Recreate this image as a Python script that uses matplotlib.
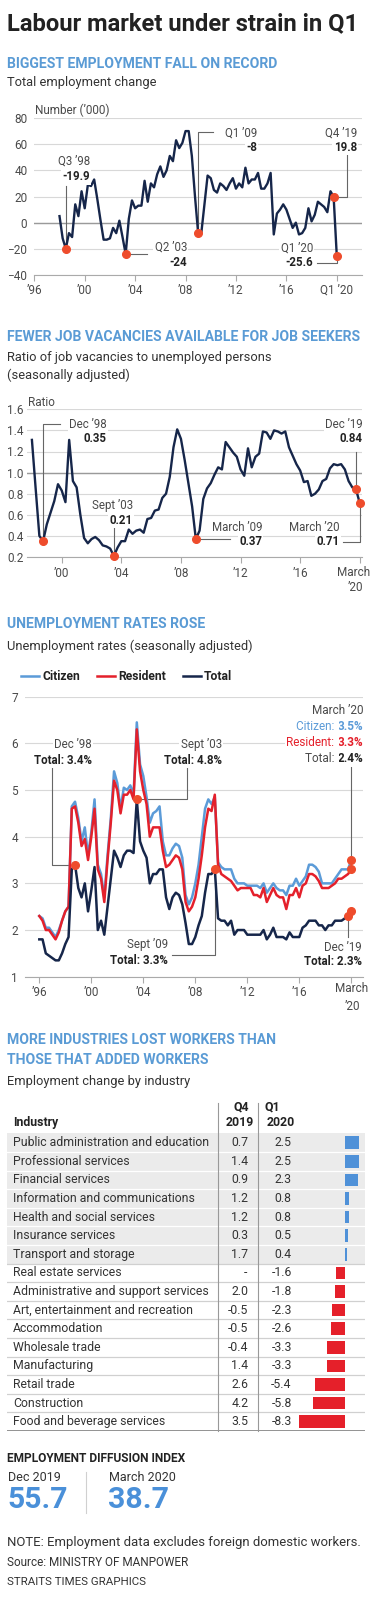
import numpy as np
import matplotlib
matplotlib.use("Agg")
import matplotlib.pyplot as plt
from matplotlib.lines import Line2D

W, H = 371, 1600
plt.rcParams['font.family'] = ['Roboto', 'DejaVu Sans']

NAVY = '#16264a'
DOT = '#ee4c2c'
CIT = '#5b9bd8'
RES = '#e4202b'
HEAD = '#5a9bd5'
DARK = '#222222'
TICK = '#4a4a4a'
GRID = '#d8d8d8'
LEAD = '#666666'
BARPOS = '#4f91d8'
BARNEG = '#e5202a'

# ---- data ----
# total employment change ('000), quarterly from Q1 1998 to Q1 2020
emp_start = 1998
emp_change = [5, -12, -19.9, -8, -11, 14, 5, 24, 11, 29, 28, 33,
              18, 2, -13, -13, -12, -4, -8, 1.5, -11, -24,
              3, 17, 11, 13, 13, 32, 16, 30, 27, 37, 43, 35, 40, 51, 47, 63,
              57, 61, 70, 70, 51, 20, -8,
              -8, 14, 36, 34, 25, 23, 30, 28, 25, 30, 34, 26, 30, 27, 42, 30,
              33, 33, 38, 26, 26, 30, 38,
              -9, 7, 10, 14, 10, 3, -4, 0, -9, -8, -4, 11, 1, 6, 16, 14, 12, 8,
              24, 19.8, -25.6]

# ratio of job vacancies to unemployed persons, quarterly from March 1998
ratio_start = 1998
vac_ratio = [1.31, 0.85, 0.40, 0.35, 0.51, 0.62, 0.73, 0.89,
             0.83, 0.72, 1.31, 0.92, 0.86, 0.60, 0.38, 0.33,
             0.37, 0.39, 0.36, 0.31, 0.30, 0.28, 0.21, 0.29,
             0.35, 0.35, 0.46, 0.42, 0.45, 0.46, 0.43, 0.56,
             0.57, 0.64, 0.65, 0.76, 0.80, 0.96, 1.24, 1.41,
             1.32, 1.12, 0.90, 0.68, 0.37, 0.45, 0.75, 0.85,
             0.90, 0.98, 1.05, 1.03, 1.29, 1.24, 1.19, 1.15,
             1.03, 0.97, 1.23, 1.05, 1.15, 1.18, 1.39, 1.38,
             1.32, 1.40, 1.39, 1.37, 1.39, 1.24, 1.16, 1.08,
             1.02, 0.91, 0.92, 0.78, 0.80, 0.84, 0.92, 0.94,
             1.04, 1.08, 1.07, 1.08, 1.03, 0.92, 0.86, 0.84, 0.71]

# unemployment rates (%), quarterly from Q1 1996
unemp_start = 1996
citizen = [2.3, 2.25, 2.05, 2.05, 1.95, 1.85, 2.0, 2.2, 2.4, 2.5, 4.65, 4.75,
           4.4, 3.9, 4.2, 3.6, 4.1, 4.8, 3.4, 3.2, 2.7, 3.6, 4.4, 5.4,
           5.15, 4.6, 5.05, 5.0, 5.1, 4.9, 6.45, 5.55, 5.3, 4.85, 4.3, 4.5,
           4.55, 4.65, 3.9, 3.6, 3.6, 3.75, 3.85, 3.8, 3.55, 2.75, 2.55, 2.7,
           3.0, 3.4, 4.0, 4.6, 4.8, 4.7, 4.85, 3.45, 3.35, 3.3, 3.3, 3.3,
           3.1, 3.0, 3.0, 3.0, 2.95, 2.95, 2.95, 2.95, 2.9, 3.0, 2.8, 2.9,
           3.0, 2.9, 2.85, 2.85, 2.75, 2.95, 2.95, 3.1, 2.95, 3.05, 3.15, 3.4,
           3.4, 3.35, 3.25, 3.0, 3.0, 3.0, 3.0, 3.1, 3.2, 3.3, 3.3, 3.3, 3.5]
resident = [2.3, 2.2, 2.0, 2.0, 1.9, 1.8, 1.95, 2.2, 2.4, 2.5, 4.6, 4.65,
            4.3, 3.8, 3.95, 3.5, 4.0, 4.6, 3.3, 3.1, 2.6, 3.5, 4.3, 5.2,
            5.0, 4.5, 4.9, 4.9, 5.0, 4.8, 6.3, 5.4, 5.0, 4.7, 4.0, 4.2,
            4.2, 4.2, 3.7, 3.35, 3.4, 3.5, 3.6, 3.55, 3.3, 2.6, 2.4, 2.5,
            2.7, 3.1, 3.6, 4.2, 4.6, 4.55, 4.9, 3.4, 3.2, 3.15, 3.1, 3.05,
            2.95, 2.85, 2.9, 2.9, 2.9, 2.9, 2.75, 2.75, 2.7, 2.9, 2.6, 2.75,
            2.9, 2.75, 2.7, 2.7, 2.45, 2.75, 2.75, 2.9, 2.7, 2.95, 3.0, 3.2,
            3.2, 3.15, 3.05, 2.9, 2.9, 2.9, 2.95, 3.0, 3.1, 3.1, 3.15, 3.2, 3.3]
total = [1.8, 1.8, 1.5, 1.45, 1.4, 1.35, 1.35, 1.5, 1.7, 1.85, 3.3, 3.4,
         2.9, 2.7, 3.0, 2.4, 2.85, 3.35, 2.0, 2.2, 1.9, 2.5, 3.1, 3.7,
         3.55, 3.35, 3.6, 3.7, 3.7, 3.65, 4.8, 3.9, 3.7, 3.55, 3.0, 3.2,
         3.2, 3.3, 3.3, 2.7, 2.45, 2.7, 2.8, 2.75, 2.55, 2.15, 1.7, 1.7,
         1.85, 2.1, 2.3, 2.8, 3.2, 3.2, 3.3, 2.25, 2.2, 2.2, 2.1, 2.2,
         1.9, 2.0, 2.0, 2.0, 1.9, 1.9, 1.9, 1.9, 1.9, 2.0, 1.8, 1.9,
         2.05, 1.85, 1.85, 1.85, 1.8, 1.95, 1.85, 1.85, 1.85, 2.05, 2.1, 2.2,
         2.2, 2.2, 2.1, 2.1, 2.0, 2.1, 2.1, 2.2, 2.2, 2.2, 2.25, 2.3, 2.4]

industries = ['Public administration and education', 'Professional services',
              'Financial services', 'Information and communications',
              'Health and social services', 'Insurance services',
              'Transport and storage', 'Real estate services',
              'Administrative and support services',
              'Art, entertainment and recreation', 'Accommodation',
              'Wholesale trade', 'Manufacturing', 'Retail trade',
              'Construction', 'Food and beverage services']
q4_2019 = [0.7, 1.4, 0.9, 1.2, 1.2, 0.3, 1.7, None, 2.0, -0.5, -0.5, -0.4,
           1.4, 2.6, 4.2, 3.5]
q1_2020 = [2.5, 2.5, 2.3, 0.8, 0.8, 0.5, 0.4, -1.6, -1.8, -2.3, -2.6, -3.3,
           -3.3, -5.4, -5.8, -8.3]

diffusion_labels = ['Dec 2019', 'March 2020']
diffusion_values = [55.7, 38.7]

# ---- helpers (pixel coordinates, origin top-left) ----
fig = plt.figure(figsize=(W / 100, H / 100), dpi=100)
R = fig.canvas.get_renderer()
WB = dict(fc='white', ec='none', pad=1.0)


def fx(px):
    return px / W


def fy(py):
    return 1 - py / H


def add_ax(x0, y0, x1, y1):
    return fig.add_axes([fx(x0), fy(y1), (x1 - x0) / W, (y1 - y0) / H])


def txt(px, py, s, size=8.3, color=TICK, weight='normal', ha='left', va='center', **kw):
    return fig.text(fx(px), fy(py), s, fontsize=size, color=color,
                    fontweight=weight, ha=ha, va=va, **kw)


def width(t):
    return t.get_window_extent(R).width


def fit(t, w):
    t.set_fontsize(t.get_fontsize() * w / width(t))
    return t.get_fontsize()


def fline(xs, ys, color='#999999', lw=0.8):
    fig.add_artist(Line2D([fx(x) for x in xs], [fy(y) for y in ys],
                          color=color, lw=lw, transform=fig.transFigure))


def to_px(ax, x, y):
    X, Y = ax.transData.transform((x, y))
    return X, H - Y


def leader(ax, pts):
    d = np.array([ax.transData.inverted().transform((x, H - y)) for x, y in pts])
    ax.plot(d[:, 0], d[:, 1], color=LEAD, lw=0.8, zorder=2, clip_on=False)


def label(px, py1, s1, py2, s2, ha='right'):
    txt(px, py1, s1, ha=ha, bbox=WB)
    txt(px, py2, s2, color=DARK, weight='bold', ha=ha, bbox=WB)


def style(ax, ypad, xpad):
    for s in ['top', 'right', 'left']:
        ax.spines[s].set_visible(False)
    ax.spines['bottom'].set_color('#aaaaaa')
    ax.spines['bottom'].set_linewidth(0.8)
    ax.grid(axis='y', color=GRID, lw=0.8)
    ax.set_axisbelow(True)
    ax.patch.set_alpha(0)
    ax.tick_params(axis='y', length=0, pad=ypad, labelsize=8.5, labelcolor=TICK)
    ax.tick_params(axis='x', length=4, width=0.8, color='#aaaaaa', pad=xpad,
                   labelsize=8.5, labelcolor=TICK)


# ---- titles ----
t = txt(7, 24, 'Labour market under strain in Q1', size=16, color=DARK, weight='bold')
fit(t, 353)
h = txt(7, 337, 'FEWER JOB VACANCIES AVAILABLE FOR JOB SEEKERS', size=10,
        color=HEAD, weight='bold')
hs = fit(h, 355)
txt(7, 63.5, 'BIGGEST EMPLOYMENT FALL ON RECORD', size=hs, color=HEAD, weight='bold')
txt(7, 624, 'UNEMPLOYMENT RATES ROSE', size=hs, color=HEAD, weight='bold')
txt(7, 1040, 'MORE INDUSTRIES LOST WORKERS THAN', size=hs, color=HEAD, weight='bold')
txt(7, 1059.5, 'THOSE THAT ADDED WORKERS', size=hs, color=HEAD, weight='bold')
SUB = 9.3
txt(7, 82.5, 'Total employment change', size=SUB, color='#333333')
txt(7, 357.5, 'Ratio of job vacancies to unemployed persons', size=SUB, color='#333333')
txt(7, 375, '(seasonally adjusted)', size=SUB, color='#333333')
txt(7, 646, 'Unemployment rates (seasonally adjusted)', size=SUB, color='#333333')
txt(7, 1081.5, 'Employment change by industry', size=SUB, color='#333333')

# ---- chart 1: employment change ----
ax1 = add_ax(34.3, 118, 362, 275)
ax1.set_xlim(1996, 2022)
ax1.set_ylim(-40, 80)
t1 = emp_start + np.arange(len(emp_change)) / 4
e1 = np.array(emp_change)
ax1.axhline(0, color='#9a9a9a', lw=1.0, zorder=1)
ax1.plot(t1, e1, color=NAVY, lw=1.7, zorder=3)
ax1.set_yticks([-40, -20, 0, 20, 40, 60, 80])
ax1.set_xticks([1996, 2000, 2004, 2008, 2012, 2016, 2020])
ax1.set_xticklabels(['’96', '’00', '’04', '’08', '’12', '’16', 'Q1 ’20'])
style(ax1, 5, 2.5)
txt(35, 110, 'Number (’000)', size=8.5)
k1 = [2, 21, 44, 87, 88]
ax1.plot(t1[k1], e1[k1], 'o', color=DOT, ms=5.5, zorder=5, clip_on=False)

x, y = to_px(ax1, t1[2], e1[2])
leader(ax1, [(x, y), (x, 186.5)])
label(90, 161.5, 'Q3 ’98', 177, '-19.9')
x, y = to_px(ax1, t1[21], e1[21])
leader(ax1, [(x, y), (147, y)])
label(187, 247, 'Q2 ’03', 262, '-24')
x, y = to_px(ax1, t1[44], e1[44])
leader(ax1, [(x, y), (x, 132.5), (213, 132.5)])
label(257, 133, 'Q1 ’09', 147.5, '-8')
x, y = to_px(ax1, t1[87], e1[87])
leader(ax1, [(x, y), (347, y), (347, 155)])
label(357, 133, 'Q4 ’19', 147.5, '19.8')
x, y = to_px(ax1, t1[88], e1[88])
leader(ax1, [(x, y), (x, 263.3), (317, 263.3)])
label(313, 248, 'Q1 ’20', 263, '-25.6')

# ---- chart 2: vacancy ratio ----
ax2 = add_ax(27, 409.3, 362, 557)
ax2.set_xlim(1997.67, 2020.15)
ax2.set_ylim(0.2, 1.6)
t2 = ratio_start + np.arange(len(vac_ratio)) / 4
v2 = np.array(vac_ratio)
ax2.axhline(1.0, color='#9a9a9a', lw=1.0, zorder=1)
ax2.plot(t2, v2, color=NAVY, lw=1.7, zorder=3)
ax2.set_yticks(np.arange(0.2, 1.61, 0.2))
ax2.set_yticklabels(['%.1f' % v for v in np.arange(0.2, 1.61, 0.2)])
ax2.set_xticks([2000, 2004, 2008, 2012, 2016, 2020])
ax2.set_xticklabels(['’00', '’04', '’08', '’12', '’16', ''])
style(ax2, 2.5, 3.5)
txt(370, 572, 'March', ha='right', size=8.5)
txt(363, 587.5, '’20', ha='right', size=8.5)
txt(28, 403, 'Ratio', size=8.5)
k2 = [3, 22, 44, 87, 88]
ax2.plot(t2[k2], v2[k2], 'o', color=DOT, ms=5.5, zorder=5, clip_on=False)

x, y = to_px(ax2, t2[3], v2[3])
leader(ax2, [(x, y), (x, 424.3), (60, 424.3)])
label(107, 424.5, 'Dec ’98', 438.5, '0.35')
x, y = to_px(ax2, t2[22], v2[22])
leader(ax2, [(x, y), (x, 527)])
label(133, 505.5, 'Sept ’03', 520, '0.21')
x, y = to_px(ax2, t2[44], v2[44])
leader(ax2, [(x, y), (230, y)])
label(262, 527.5, 'March ’09', 541.5, '0.37')
x, y = to_px(ax2, t2[87], v2[87])
leader(ax2, [(x, y), (x, 451.5)])
label(363, 425, 'Dec ’19', 439, '0.84')
x, y = to_px(ax2, t2[88], v2[88])
leader(ax2, [(x, y), (x, 541.7), (343, 541.7)])
label(340, 527.5, 'March ’20', 541.5, '0.71')

# ---- chart 3: unemployment rates ----
ax3 = add_ax(25, 696.7, 363, 976.7)
ax3.set_xlim(1994.9, 2020.9)
ax3.set_ylim(1, 7)
t3 = unemp_start + np.arange(len(total)) / 4
c3, r3, u3 = np.array(citizen), np.array(resident), np.array(total)
lc, = ax3.plot(t3, c3, color=CIT, lw=1.8, zorder=3, label='Citizen')
lr, = ax3.plot(t3, r3, color=RES, lw=1.8, zorder=3, label='Resident')
lt, = ax3.plot(t3, u3, color=NAVY, lw=1.8, zorder=3, label='Total')
ax3.set_yticks(range(1, 8))
ax3.set_xticks([1996, 2000, 2004, 2008, 2012, 2016, 2020])
ax3.set_xticklabels(['’96', '’00', '’04', '’08', '’12', '’16', ''])
style(ax3, 5, 3)
txt(368, 988.5, 'March', ha='right', size=8.5)
txt(360, 1006.5, '’20', ha='right', size=8.5)
fig.legend(handles=[lc, lr, lt], loc='center left', bbox_to_anchor=(fx(21), fy(676.7)),
           ncol=3, frameon=False, handlelength=1.5, handletextpad=0.25,
           columnspacing=1.4, borderaxespad=0, borderpad=0,
           prop=dict(weight='bold', size=8.7))
for s in fig.legends[0].get_texts():
    s.set_color(DARK)

k3 = [11, 30, 54, 95]
ax3.plot(t3[k3], u3[k3], 'o', color=DOT, ms=5.5, zorder=5, clip_on=False)
ax3.plot([t3[96]] * 3, [c3[96], r3[96], u3[96]], 'o', color=DOT, ms=5.5, zorder=5,
         clip_on=False)

x, y = to_px(ax3, t3[11], u3[11])
leader(ax3, [(x, y), (51.7, y), (51.7, 765)])
label(92, 745, 'Dec ’98', 760.5, 'Total: 3.4%')
x, y = to_px(ax3, t3[30], u3[30])
leader(ax3, [(x, y), (186.7, y), (186.7, 765)])
label(222, 745, 'Sept ’03', 760.5, 'Total: 4.8%')
x, y = to_px(ax3, t3[54], u3[54])
leader(ax3, [(x, y), (x, 955), (171.7, 955)])
label(168, 945, 'Sept ’09', 960, 'Total: 3.3%')
x, y = to_px(ax3, t3[95], u3[95])
leader(ax3, [(x, y), (x, 937)])
label(362, 947.5, 'Dec ’19', 962, 'Total: 2.3%')
x, y = to_px(ax3, t3[96], c3[96])
leader(ax3, [(x, y), (x, 766.5)])

txt(363, 710, 'March ’20', ha='right', bbox=WB, size=8.5)
for py, name, val, c1, c2 in [(726, 'Citizen: ', '%.1f%%' % c3[96], CIT, CIT),
                              (742.3, 'Resident: ', '%.1f%%' % r3[96], RES, RES),
                              (759, 'Total: ', '%.1f%%' % u3[96], TICK, DARK)]:
    b = txt(363, py, val, color=c2, weight='bold', ha='right', bbox=WB, size=8.5)
    txt(363 - width(b), py, name, color=c1, ha='right', bbox=WB, size=8.5)

# ---- table ----
ZERO_PX, PX_UNIT = 345, 5.55
top, rowh = 1133.4, 18.6
n = len(industries)
axt = add_ax(7, top, 365, top + rowh * n)
axt.set_xlim((7 - ZERO_PX) / PX_UNIT, (365 - ZERO_PX) / PX_UNIT)
axt.set_ylim(n - 0.5, -0.5)
axt.axis('off')
rows = np.arange(n)
for i, v in enumerate(q1_2020):
    if v > 0:
        axt.axhspan(i - 0.5, i + 0.5, color='#ebebeb', lw=0, zorder=0)
for i in range(n - 1):
    axt.axhline(i + 0.5, color='white' if q1_2020[i + 1] > 0 else '#d0d0d0', lw=0.9,
                zorder=1)
axt.axhline(n - 0.5, color='#808080', lw=1.2, zorder=1)
axt.barh(rows, q1_2020, height=0.68, zorder=2,
         color=[BARPOS if v > 0 else BARNEG for v in q1_2020])

TS = 8.8
for i in rows:
    _, py = to_px(axt, 0, i)
    txt(13.3, py, industries[i], color='#333333', size=TS)
    a = q4_2019[i]
    if a is None:
        txt(245, py, '-', color='#333333', ha='center', size=TS)
    else:
        txt(248.3, py, '%.1f' % a, color='#333333', ha='right', size=TS)
    txt(291.7, py, '%.1f' % q1_2020[i], color='#333333', ha='right', size=TS)

fline([218.3, 218.3], [1103, top + rowh * n])
fline([258.3, 258.3], [1103, top + rowh * n])
txt(13.3, 1122.7, 'Industry', color=DARK, weight='bold', size=TS)
txt(241.5, 1106.7, 'Q4', color=DARK, weight='bold', ha='center', size=TS)
txt(240, 1122.7, '2019', color=DARK, weight='bold', ha='center', size=TS)
txt(272.5, 1106.7, 'Q1', color=DARK, weight='bold', ha='center', size=TS)
txt(281, 1122.7, '2020', color=DARK, weight='bold', ha='center', size=TS)

# ---- diffusion index ----
d = txt(7.3, 1458.3, 'EMPLOYMENT DIFFUSION INDEX', size=10, color=DARK, weight='bold')
fit(d, 179)
for px, lab, val in zip([8, 109.3], diffusion_labels, diffusion_values):
    txt(px, 1477.3, lab, size=9, color='#333333')
    big = txt(px - 1, 1499.5, '%.1f' % val, size=24, color='#4a90d9', weight='bold')
    fit(big, 61)
fline([86, 86], [1471.7, 1513.3], color='#d0d0d0')

nt = txt(7.3, 1542.3, 'NOTE: Employment data excludes foreign domestic workers.',
         size=9, color='#333333')
fit(nt, 356)
s1 = txt(7.3, 1562.7, 'Source: MINISTRY OF MANPOWER', size=8, color='#333333')
fit(s1, 181)
s2 = txt(7.3, 1581.7, 'STRAITS TIMES GRAPHICS', size=8, color='#333333')
fit(s2, 139)

fig.savefig('out.png', dpi=100)
